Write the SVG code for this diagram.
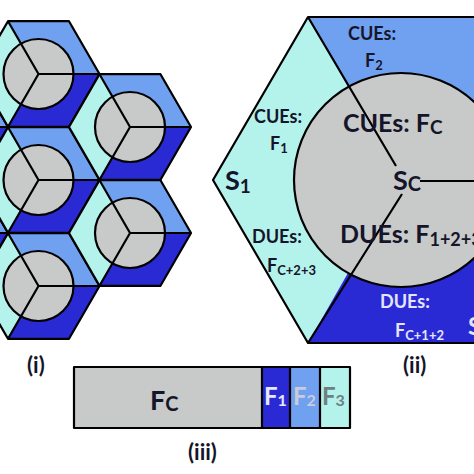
<svg xmlns="http://www.w3.org/2000/svg" width="474" height="474" viewBox="0 0 474 474" xmlns:xlink="http://www.w3.org/1999/xlink">
<style>
.lb{fill:#70a0f0}
.db{fill:#2a2ad4}
.cy{fill:#b4f2ec}
.gr{fill:#c8c9c9}
.ln{fill:none;stroke:#000;stroke-width:2.2;stroke-linejoin:round}
.t{font-family:Lato,"Open Sans","Liberation Sans",sans-serif;font-weight:bold;fill:#15152a}
.w{fill:#e4e6ff}
</style>
<defs>
<g id="cell">
<path class="lb" d="M0,0 L61,0 L30.5,-52.8 L-30.5,-52.8 Z"/>
<path class="db" d="M0,0 L-30.5,52.8 L30.5,52.8 L61,0 Z"/>
<path class="cy" d="M0,0 L-30.5,-52.8 L-61,0 L-30.5,52.8 Z"/>
<circle class="gr" cx="0" cy="0" r="35"/>
<circle class="ln" cx="0" cy="0" r="35"/>
<path class="ln" d="M0,0 L61,0 M0,0 L-30.5,-52.8 M0,0 L-30.5,52.8"/>
<path class="ln" d="M61,0 L30.5,52.8 L-30.5,52.8 L-61,0 L-30.5,-52.8 L30.5,-52.8 Z"/>
</g>
</defs>

<g id="panel-i">
<use xlink:href="#cell" href="#cell" x="-53" y="127"/>
<use xlink:href="#cell" href="#cell" x="-53" y="233"/>
<use xlink:href="#cell" href="#cell" x="38.5" y="74"/>
<use xlink:href="#cell" href="#cell" x="38.5" y="180"/>
<use xlink:href="#cell" href="#cell" x="38.5" y="286"/>
<use xlink:href="#cell" href="#cell" x="130" y="127"/>
<use xlink:href="#cell" href="#cell" x="130" y="233"/>
<text class="t" x="27" y="373" font-size="22">(i)</text>
</g>

<g id="panel-ii">
<path class="cy" d="M401,180 L308,17 L213,180 L308,343 Z"/>
<path class="lb" d="M401,180 L308,17 L600,17 L600,180 Z"/>
<path class="db" d="M401,180 L308,343 L600,343 L600,180 Z"/>
<circle class="gr" cx="401" cy="180" r="107"/>
<circle class="ln" cx="401" cy="180" r="107"/>
<path class="ln" d="M600,17 L308,17 L213,180 L308,343 L600,343"/>
<path class="ln" d="M308,17 L396,166 M308,343 L402,194 M420,181 L480,181"/>
<text class="t" x="348" y="40" font-size="18">CUEs:</text>
<text class="t" x="365" y="67" font-size="18">F<tspan font-size="13" dy="3">2</tspan></text>
<text class="t" x="254" y="123" font-size="18">CUEs:</text>
<text class="t" x="270" y="150" font-size="18">F<tspan font-size="13" dy="3">1</tspan></text>
<text class="t" x="343" y="132" font-size="25">CUEs: F<tspan font-size="19" dy="2">C</tspan></text>
<text class="t" x="225" y="190" font-size="27">S<tspan font-size="19" dy="3">1</tspan></text>
<text class="t" x="393" y="190" font-size="27">S<tspan font-size="20" dy="1">C</tspan></text>
<text class="t" x="340" y="243" font-size="25">DUEs: F<tspan font-size="18" dy="3">1+2+3</tspan></text>
<text class="t" x="252" y="243" font-size="18">DUEs:</text>
<text class="t" x="267" y="272" font-size="18">F<tspan font-size="13" dy="3">C+2+3</tspan></text>
<text class="t w" x="380" y="308" font-size="18">DUEs:</text>
<text class="t w" x="395" y="337" font-size="18">F<tspan font-size="13" dy="3">C+1+2</tspan></text>
<text class="t w" x="468" y="335" font-size="24">S<tspan font-size="17" dy="3">3</tspan></text>
<text class="t" x="403" y="373" font-size="22">(ii)</text>
</g>

<g id="panel-iii">
<rect class="gr" x="74" y="367" width="188" height="61"/>
<rect class="db" x="262" y="367" width="28" height="61"/>
<rect class="lb" x="290" y="367" width="30" height="61"/>
<rect class="cy" x="320" y="367" width="30" height="61"/>
<path class="ln" d="M74,367 H350 V428 H74 Z M262,367 V428 M290,367 V428 M320,367 V428"/>
<text class="t" x="150" y="410" font-size="27">F<tspan font-size="20" dy="1">C</tspan></text>
<text class="t" x="264" y="405" font-size="24" fill="#e6e8ff" style="fill:#e6e8ff">F<tspan font-size="16" dy="1">1</tspan></text>
<text class="t" x="293" y="405" font-size="24" style="fill:#c8ccd8">F<tspan font-size="16" dy="1">2</tspan></text>
<text class="t" x="322" y="405" font-size="24" style="fill:#6e8080">F<tspan font-size="16" dy="1">3</tspan></text>
<text class="t" x="188" y="460" font-size="22">(iii)</text>
</g>
</svg>
